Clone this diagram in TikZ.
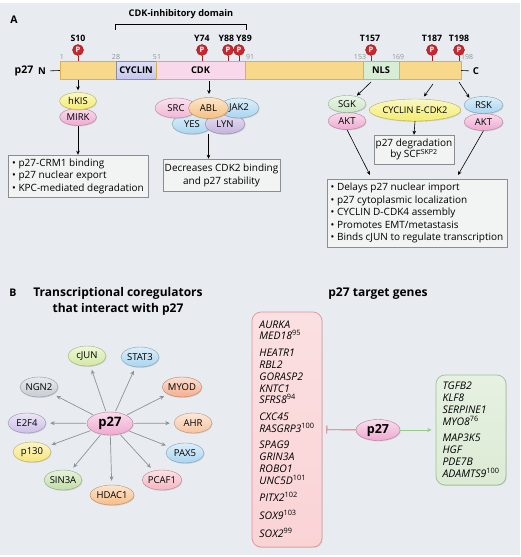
\documentclass[tikz,border=0pt]{standalone}
\usepackage{fontspec}
\setmainfont{Open Sans}
\usetikzlibrary{shapes.geometric,shadows,arrows.meta,calc}
\definecolor{bgc}{HTML}{E8ECF0}
\definecolor{baryel}{HTML}{F8D98B}
\definecolor{barbd}{HTML}{DDB04E}
\definecolor{cyclinc}{HTML}{C7C7EE}
\definecolor{cdkc}{HTML}{F9D8EB}
\definecolor{nlsc}{HTML}{D8EED4}
\definecolor{pred}{HTML}{C8282E}
\definecolor{numc}{HTML}{8F959B}
\definecolor{boxfill}{HTML}{F2F3F3}
\definecolor{boxbd}{HTML}{8A8E92}
\definecolor{pinkc}{HTML}{EFA9D0}
\definecolor{yelc}{HTML}{F4EC6E}
\definecolor{bluec}{HTML}{A9D5F0}
\definecolor{purpc}{HTML}{C3B2DD}
\definecolor{srcc}{HTML}{F0B6D6}
\definecolor{ablc}{HTML}{F6C07E}
\definecolor{sgkc}{HTML}{CDE6C5}
\definecolor{cjunc}{HTML}{D3E8A2}
\definecolor{ngnc}{HTML}{C6CCD3}
\definecolor{myodc}{HTML}{F5AE8E}
\definecolor{e2fc}{HTML}{CDBFE8}
\definecolor{ahrc}{HTML}{F8C4A0}
\definecolor{p130c}{HTML}{F6E67A}
\definecolor{sinc}{HTML}{C2DEA6}
\definecolor{hdacc}{HTML}{F7BD88}
\definecolor{pcafc}{HTML}{F6B5BF}
\definecolor{garrc}{HTML}{8C9297}
\definecolor{redfill}{HTML}{FAD3D5}
\definecolor{redbd}{HTML}{DE969C}
\definecolor{redln}{HTML}{D9737B}
\definecolor{grnfill}{HTML}{DCEBD5}
\definecolor{grnbd}{HTML}{9DBF91}
\definecolor{grnln}{HTML}{98C88A}
\newcommand{\refsup}[1]{\textsuperscript{\upshape #1}}
\begin{document}
\begin{tikzpicture}[x=1pt,y=-1pt,
  shd/.style={drop shadow={shadow xshift=0.7pt,shadow yshift=-0.9pt,opacity=0.25}},
  ell/.style={ellipse,inner sep=0pt,minimum width=38pt,minimum height=18pt,
    top color=#1!40!white,bottom color=#1,draw=#1!75!black,line width=0.4pt,shd,
    font=\fontsize{9.5}{11}\selectfont},
  phos/.style={circle,inner sep=0pt,minimum size=11pt,fill=pred,draw=pred!70!black,
    line width=0.4pt,text=white,font=\bfseries\fontsize{7.5}{7.5}\selectfont},
  stem/.style={draw=pred!80!black,line width=0.8pt},
  site/.style={inner sep=0pt,font=\bfseries\fontsize{8.8}{10}\selectfont},
  num/.style={inner sep=0pt,text=numc,font=\fontsize{7}{8}\selectfont},
  seg/.style={rectangle,inner sep=0pt,minimum height=18pt,line width=0.5pt,
    font=\bfseries\fontsize{9.3}{10}\selectfont},
  infobox/.style={rectangle,draw=boxbd,fill=boxfill,line width=0.5pt,shd,
    inner sep=0pt,font=\fontsize{10}{12.4}\selectfont},
  arr/.style={-{Stealth[length=4pt,width=3.6pt]},line width=0.6pt},
  garr/.style={draw=garrc,-{Stealth[length=4.5pt,width=4pt]},line width=0.7pt,
    shorten >=4pt,shorten <=1pt},
  gene/.style={rounded corners=9pt,line width=0.7pt,shd,inner sep=0pt,
    font=\itshape\fontsize{10.5}{12}\selectfont},
  title/.style={inner sep=0pt,font=\bfseries\fontsize{12}{16}\selectfont,align=center}
]
\useasboundingbox (0,0) rectangle (520,557);
\fill[bgc] (0,3) rectangle (520,555);

% ---------------- Panel A ----------------
\node[inner sep=0pt,font=\bfseries\fontsize{10.5}{12}\selectfont] (A) at (14,20) {A};
\node[inner sep=0pt,font=\bfseries\fontsize{9.2}{10}\selectfont] (cdkdom) at (181,14) {CDK-inhibitory domain};
\draw[line width=0.6pt] (115,30) -- (115,24) -- (246,24) -- (246,30);

% bar
\node[seg,minimum width=401pt,fill=baryel,draw=barbd,shd] (bar) at (260.5,70.5) {};
\node[seg,minimum width=40pt,top color=cyclinc!60!white,bottom color=cyclinc,draw=cyclinc!70!black] (cyclin) at (136,70.5) {CYCLIN};
\node[seg,minimum width=89pt,fill=cdkc,draw=barbd] (cdk) at (200.5,70.5) {CDK};
\node[seg,minimum width=36pt,fill=nlsc,draw=barbd] (nls) at (381,70.5) {NLS};

\node[inner sep=0pt,font=\bfseries\fontsize{10.5}{12}\selectfont] (p27lab) at (24,71) {p27};
\node[inner sep=0pt,font=\bfseries\fontsize{9.5}{10}\selectfont] (N) at (42,71) {N};
\node[inner sep=0pt,font=\bfseries\fontsize{9.5}{10}\selectfont] (C) at (476,71) {C};
\draw[line width=0.6pt,shorten <=4pt] (N.east) -- (bar.west);
\draw[line width=0.6pt,shorten >=4pt] (bar.east) -- (C.west);

% residue numbers
\node[num] (n1) at (62,57) {1};
\node[num] (n28) at (116,57) {28};
\node[num] (n51) at (157,57) {51};
\node[num] (n91) at (250,57) {91};
\node[num] (n153) at (360,57) {153};
\node[num] (n169) at (398,57) {169};
\node[num] (n198) at (467,57) {198};

% phosphorylation sites
\foreach \n/\x/\lx in {S10/78/78,Y74/202/202,Y88/228/226.5,Y89/239/244,T157/371/370,T187/432/432,T198/459/459}{
  \node[site] (l\n) at (\lx,38) {\n};
  \node[phos] (p\n) at (\x,50) {P};
  \draw[stem] (p\n.south) -- (p\n.south |- bar.north);
}

% hKIS / MIRK
\node[ell=pinkc,minimum width=37pt,minimum height=17pt] (mirk) at (78,117) {MIRK};
\node[ell=yelc,minimum width=37pt,minimum height=17pt] (hkis) at (78,101) {hKIS};
\draw[arr,shorten >=2pt] (pS10 |- bar.south) -- (hkis.north);
\node[infobox,minimum width=140pt,minimum height=42pt,align=left] (box1) at (78,176)
 {• p27-CRM1 binding\\• p27 nuclear export\\• KPC-mediated degradation};
\draw[arr] (mirk.south) -- (box1.north);

% CDK complex
\node[ell=bluec,minimum width=40pt,minimum height=20pt] (yes) at (192,124) {YES};
\node[ell=purpc,minimum width=40pt,minimum height=20pt] (lyn) at (225,124) {LYN};
\node[ell=srcc,minimum width=42pt,minimum height=20pt] (src) at (176,108) {SRC};
\node[ell=bluec,minimum width=40pt,minimum height=20pt] (jak2) at (239,108) {JAK2};
\node[ell=ablc,minimum width=40pt,minimum height=21pt] (abl) at (208.5,108) {ABL};
\coordinate (cdkarr) at (209,81);
\draw[arr] (cdkarr) -- (209,94);
\node[infobox,minimum width=117pt,minimum height=32pt,align=center,font=\fontsize{10}{13}\selectfont] (box2) at (221.5,175)
 {Decreases CDK2 binding\\and p27 stability};
\draw[arr] (abl |- lyn.south) -- (abl |- box2.north);

% right side
\node[ell=pinkc,minimum width=38pt,minimum height=17pt] (akt1) at (347,121) {AKT};
\node[ell=sgkc,minimum width=38pt,minimum height=17pt] (sgk) at (347,104) {SGK};
\node[ell=yelc,minimum width=75pt,minimum height=22pt,font=\fontsize{9.2}{10}\selectfont] (cyce) at (415,110) {CYCLIN E-CDK2};
\node[ell=pinkc,minimum width=39pt,minimum height=17pt] (akt2) at (483.5,122) {AKT};
\node[ell=bluec,minimum width=39pt,minimum height=17pt] (rsk) at (483.5,105) {RSK};

\coordinate (s1) at (371,82);
\coordinate (s2) at (433,84);
\coordinate (s3) at (459,82);
\draw[arr,shorten >=1pt] (s1) -- (sgk.40);
\draw[arr,shorten >=3pt] (s2) -- (cyce.57);
\draw[arr,shorten >=1pt] (s3) -- (rsk.155);

\node[infobox,minimum width=80pt,minimum height=29pt,align=center,font=\fontsize{10}{11.5}\selectfont] (box4) at (414,149.5)
 {p27 degradation\\by SCF\textsuperscript{SKP2}};
\draw[arr] (cyce.south) -- (box4.north);

\node[infobox,minimum width=180pt,minimum height=68pt,align=left] (box3) at (417,213)
 {• Delays p27 nuclear import\\• p27 cytoplasmic localization\\• CYCLIN D-CDK4 assembly\\• Promotes EMT/metastasis\\• Binds cJUN to regulate transcription};
\coordinate (t1) at (370,175);
\coordinate (t2) at (458,175);
\draw[arr] (akt1.south) -- (t1);
\draw[arr] (akt2.south) -- (t2);

% ---------------- Panel B ----------------
\node[inner sep=0pt,font=\bfseries\fontsize{10.5}{12}\selectfont] (B) at (13,293) {B};
\node[title] (btitle) at (118,301) {Transcriptional coregulators\\that interact with p27};
\node[title] (gtitle) at (378,294) {p27 target genes};

\node[ell=pinkc,minimum width=46pt,minimum height=23pt,font=\bfseries\fontsize{13}{14}\selectfont] (p27) at (110,423.5) {p27};
\foreach \n/\lab/\c/\x/\y in {cjun/cJUN/cjunc/87/356, stat/STAT3/bluec/140/357, ngn/NGN2/ngnc/39/387,
  myod/MYOD/myodc/182/387, e2f/E2F4/e2fc/27/423, ahr/AHR/ahrc/193/423, p130/p130/p130c/32/452,
  pax/PAX5/bluec/185/453, sin/SIN3A/sinc/63/480, pcaf/PCAF1/pcafc/162/480, hdac/HDAC1/hdacc/112/495}{
  \node[ell=\c,minimum width=38pt,minimum height=20pt] (\n) at (\x,\y) {\lab};
  \draw[garr] (p27) -- (\n);
}

% target genes
\node[gene,draw=redbd,top color=redfill!70!white,bottom color=redfill,minimum width=70pt,minimum height=235pt,
  align=left] (rbox) at (287,429.5)
 {AURKA\\[-1pt]MED18\refsup{95}\\[5pt]HEATR1\\RBL2\\GORASP2\\KNTC1\\[-1pt]SFRS8\refsup{94}\\[5pt]CXC45\\RASGRP3\refsup{100}\\[4pt]SPAG9\\GRIN3A\\ROBO1\\UNC5D\refsup{101}\\[5pt]PITX2\refsup{102}\\[6pt]SOX9\refsup{103}\\[6pt]SOX2\refsup{99}};
\node[gene,draw=grnbd,top color=grnfill!70!white,bottom color=grnfill,minimum width=70pt,minimum height=110pt,
  align=left] (gbox) at (471,430)
 {TGFB2\\KLF8\\SERPINE1\\MYO8\refsup{76}\\[4pt]MAP3K5\\HGF\\PDE7B\\ADAMTS9\refsup{100}};
\node[ell=pinkc,minimum width=44pt,minimum height=21pt,font=\bfseries\fontsize{12.5}{13}\selectfont] (p27b) at (378,430) {p27};
\draw[draw=redln,line width=0.9pt,-{Bar[width=8pt,line width=0.9pt]},shorten >=4pt] (p27b) -- (rbox);
\draw[draw=grnln,line width=0.9pt,-{Stealth[length=4.5pt,width=4pt]},shorten >=4pt] (p27b) -- (gbox);
\end{tikzpicture}
\end{document}
